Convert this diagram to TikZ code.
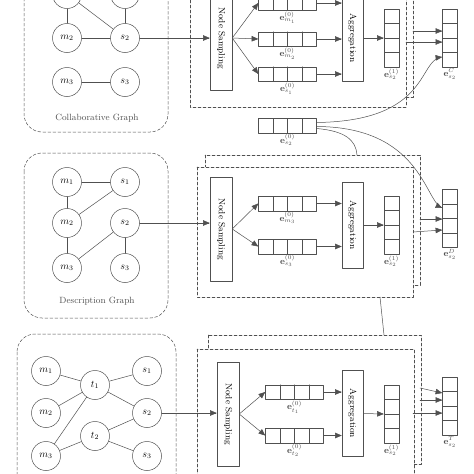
\documentclass[tikz,border=0pt]{standalone}
\usepackage{graphicx}
\usetikzlibrary{arrows,positioning}
\definecolor{lc}{RGB}{80,80,80}
\tikzset{
  gnode/.style={circle,draw=lc,minimum size=29pt,inner sep=0pt,font=\normalsize},
  gframe/.style={draw=lc,dash pattern=on 3pt off 2pt,rounded corners=18pt},
  backbox/.style={draw=lc,dash pattern=on 3pt off 2pt},
  frontbox/.style={draw=lc,dash pattern=on 3pt off 2pt,fill=white},
  opbox/.style={draw=lc,minimum width=22pt,inner sep=0pt,font=\small},
  hvec/.style={draw=lc,minimum width=58pt,minimum height=14.5pt,inner sep=0pt,
    path picture={\foreach \i in {1,2,3}{\draw[lc] ([xshift=\i*14.5pt]path picture bounding box.north west) -- ([xshift=\i*14.5pt]path picture bounding box.south west);}}},
  vvec/.style={draw=lc,minimum width=15pt,minimum height=58pt,inner sep=0pt,
    path picture={\foreach \i in {1,2,3}{\draw[lc] ([yshift=-\i*14.5pt]path picture bounding box.north west) -- ([yshift=-\i*14.5pt]path picture bounding box.north east);}}},
  lab/.style={font=\small,inner sep=1pt,text=lc},
  link/.style={draw=lc},
  flow/.style={draw=lc,->}
}
\begin{document}
\begin{tikzpicture}[line cap=round,line join=round,>=triangle 45,x=1pt,y=-1pt,line width=0.5pt]
\useasboundingbox (0,0) rectangle (474,474);
\clip (0,0) rectangle (474,474);

%collaborative graph
\draw[gframe] (24,-40) rectangle (168,132);
\foreach \n/\t/\x/\y in {m1/m_1/67/-6, s1/s_1/125/-6, m2/m_2/67/38, s2/s_2/125/38, m3/m_3/67/82, s3/s_3/125/82}
{\node[gnode] (col\n) at (\x,\y) {$\t$};}
\foreach \a/\b in {m1/m2, s1/s2, m1/s2, m2/s2, m3/s3}
{\draw[link] (col\a) -- (col\b);}
\node[font=\small,text=lc] (colname) at (97,118) {Collaborative Graph};

%sampling ja aggregointi
\draw[backbox] (198,-30) rectangle (413,97);
\draw[frontbox] (190,-20) rectangle (406,107);
\node[opbox,minimum height=104pt] (colns) at (221,38) {\rotatebox{-90}{Node Sampling}};
\node[hvec] (colem1) at (287.5,3) {};
\node[hvec] (colem2) at (287.5,39) {};
\node[hvec] (coles1) at (287.5,74) {};
\node[lab,below=0pt of colem1] {$\mathbf{e}^{(0)}_{m_1}$};
\node[lab,below=0pt of colem2] {$\mathbf{e}^{(0)}_{m_2}$};
\node[lab,below=0pt of coles1] {$\mathbf{e}^{(0)}_{s_1}$};
\node[opbox,minimum height=86pt,minimum width=21pt] (colag) at (352.5,38) {\rotatebox{-90}{Aggregation}};
\node[vvec] (colv) at (391.5,38) {};
\node[lab,below=0pt of colv] {$\mathbf{e}^{(1)}_{s_2}$};
\draw[flow] (cols2) -- (cols2 -| colns.west);
\foreach \v in {em1,em2,es1}
{\draw[flow] (colns.east) -- (col\v.west);
\draw[flow] (col\v.east) -- (col\v.east -| colag.west);}
\draw[flow] (colag.east) -- (colv.west);

%tulos C
\node[vvec] (colfin) at (450,38) {};
\node[lab,below=0pt of colfin] {$\mathbf{e}^{C}_{s_2}$};
\coordinate (colin1) at (413,31);
\coordinate (colin2) at (406,42);
\draw[flow] (colin1) -- (colin1 -| colfin.west);
\draw[flow] (colin2) -- (colin2 -| colfin.west);

%yhteinen vektori
\node[hvec] (es2) at (287.5,125.5) {};
\node[lab,below=0pt of es2] {$\mathbf{e}^{(0)}_{s_2}$};

%description graph
\draw[gframe] (24,153) rectangle (168,318);
\foreach \n/\t/\x/\y in {m1/m_1/67/182, s1/s_1/125/182, m2/m_2/67/223, s2/s_2/125/223, m3/m_3/67/268, s3/s_3/125/268}
{\node[gnode] (des\n) at (\x,\y) {$\t$};}
\foreach \a/\b in {m1/s1, m1/m2, m2/s1, m2/m3, m3/s2, s2/s3}
{\draw[link] (des\a) -- (des\b);}
\node[font=\small,text=lc] (desname) at (97,301) {Description Graph};

\draw[backbox] (205,155) rectangle (420,285);
\draw[frontbox] (197,167) rectangle (413,297);
\node[opbox,minimum height=104pt] (desns) at (221,229) {\rotatebox{-90}{Node Sampling}};
\node[hvec] (desem3) at (287.5,203.5) {};
\node[hvec] (deses3) at (287.5,246.5) {};
\node[lab,below=0pt of desem3] {$\mathbf{e}^{(0)}_{m_3}$};
\node[lab,below=0pt of deses3] {$\mathbf{e}^{(0)}_{s_3}$};
\node[opbox,minimum height=86pt,minimum width=21pt] (desag) at (352.5,225) {\rotatebox{-90}{Aggregation}};
\node[vvec] (desv) at (391.5,225) {};
\node[lab,below=0pt of desv] {$\mathbf{e}^{(1)}_{s_2}$};
\draw[flow] (dess2) -- (dess2 -| desns.west);
\foreach \v in {em3,es3}
{\draw[flow] (desns.east) -- (des\v.west);
\draw[flow] (des\v.east) -- (des\v.east -| desag.west);}
\draw[flow] (desag.east) -- (desv.west);

%tulos D
\node[vvec] (desfin) at (450,218.5) {};
\node[lab,below=0pt of desfin] {$\mathbf{e}^{D}_{s_2}$};
\coordinate (desin1) at (420,219);
\coordinate (desin2) at (413,232);
\draw[flow] (desin1) -- (desin1 -| desfin.west);
\draw[flow] (desin2) -- ([yshift=-11.5pt]desfin.west);

%kaaret
\coordinate (desin) at (357,155);
\draw[flow] ([yshift=3pt]es2.east) .. controls (430,121) and (418,60) .. ([yshift=-19pt]colfin.west);
\draw[flow] ([yshift=-1pt]es2.east) .. controls (420,127) and (425,200) .. ([yshift=10.5pt]desfin.west);
\draw[link] ([yshift=-3pt]es2.east) .. controls (345,131) and (356,140) .. (desin);

%kolmas graafi
\draw[gframe] (17,334) rectangle (176,520);
\foreach \n/\t/\x/\y in {m1/m_1/46/371, m2/m_2/46/413, m3/m_3/46/456, t1/t_1/95/385, t2/t_2/95/436, s1/s_1/147/371, s2/s_2/147/413, s3/s_3/147/456}
{\node[gnode] (tag\n) at (\x,\y) {$\t$};}
\foreach \a/\b in {m1/t1, m2/t1, m3/t1, m3/t2, t1/s1, t1/s2, t2/s2, t2/s3}
{\draw[link] (tag\a) -- (tag\b);}

\coordinate (desout) at (380,297);
\coordinate (tagin) at (384,335);
\draw[link] (desout) -- (tagin);
\draw[backbox] (208,335) rectangle (421,464);
\draw[frontbox] (197,349) rectangle (414,520);
\node[opbox,minimum height=104pt] (tagns) at (228,414) {\rotatebox{-90}{Node Sampling}};
\node[hvec] (taget1) at (294.5,392) {};
\node[hvec] (taget2) at (294.5,435.5) {};
\node[lab,below=0pt of taget1] {$\mathbf{e}^{(0)}_{t_1}$};
\node[lab,below=0pt of taget2] {$\mathbf{e}^{(0)}_{t_2}$};
\node[opbox,minimum height=86pt,minimum width=21pt] (tagag) at (352.5,413.5) {\rotatebox{-90}{Aggregation}};
\node[vvec] (tagv) at (391.5,414) {};
\node[lab,below=0pt of tagv] {$\mathbf{e}^{(1)}_{s_2}$};
\draw[flow] (tags2) -- (tags2 -| tagns.west);
\foreach \v in {et1,et2}
{\draw[flow] (tagns.east) -- (tag\v.west);
\draw[flow] (tag\v.east) -- (tag\v.east -| tagag.west);}
\draw[flow] (tagag.east) -- (tagv.west);

%tulos T
\node[vvec] (tagfin) at (450,406) {};
\node[lab,below=0pt of tagfin] {$\mathbf{e}^{T}_{s_2}$};
\coordinate (tagin1) at (420,388);
\coordinate (tagin2) at (420,400);
\coordinate (tagin3) at (413,413);
\draw[flow] (tagin1) -- ([yshift=13pt]tagfin.west);
\draw[flow] (tagin2) -- (tagin2 -| tagfin.west);
\draw[flow] (tagin3) -- (tagin3 -| tagfin.west);

\end{tikzpicture}
\end{document}
